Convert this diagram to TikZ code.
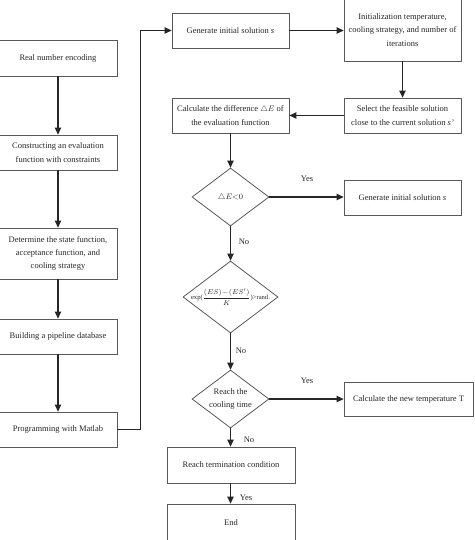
\documentclass[tikz,border=0pt]{standalone}
\usepackage{fontspec}
\setmainfont{Liberation Serif}
\usetikzlibrary{arrows.meta,shapes.geometric}
\begin{document}
\begin{tikzpicture}[x=1pt,y=-1pt,
  box/.style={draw=black!65, line width=0.8pt, rectangle, inner sep=2pt, align=center,
     font=\fontsize{8.5}{13.3}\selectfont, text=black!85},
  dia/.style={draw=black!65, line width=0.8pt, diamond, inner sep=0pt},
  dtext/.style={align=center, font=\fontsize{8.5}{13.3}\selectfont, text=black!85},
  lbl/.style={font=\fontsize{8.5}{10}\selectfont, text=black!85},
  arr/.style={draw=black!85, line width=1.2pt, -{Triangle[length=7pt,width=6.5pt]}}]
\useasboundingbox (0,0) rectangle (474,540);
% left column
\node[box, minimum width=118, minimum height=36] (enc) at (58,58) {Real number encoding};
\node[box, minimum width=118, minimum height=35] (cons) at (58,152.5) {Constructing an evaluation\\function with constraints};
\node[box, minimum width=118, minimum height=51] (det) at (58,253.5) {Determine the state function,\\acceptance function, and\\cooling strategy};
\node[box, minimum width=118, minimum height=35] (build) at (58,336.5) {Building a pipeline database};
\node[box, minimum width=118, minimum height=35] (prog) at (58,429.5) {Programming with Matlab};
% top right
\node[box, minimum width=117, minimum height=35] (gen1) at (230.5,30.5) {Generate initial solution \textit{s}};
\node[box, minimum width=117, minimum height=62] (init) at (402.5,30) {Initialization temperature,\\cooling strategy, and number of\\iterations};
\node[box, minimum width=117, minimum height=35] (sel) at (402.5,115.5) {Select the feasible solution\\close to the current solution \textit{s'}};
\node[box, minimum width=117, minimum height=35] (calc) at (230.5,115.5) {Calculate the difference $\triangle E$ of\\the evaluation function};
% decisions
\node[dia, minimum width=77, minimum height=58] (d1) at (230.5,197) {};
\node[dtext] (d1t) at (d1) {$\triangle E{<}0$};
\node[box, minimum width=117, minimum height=35] (gen2) at (402.5,197.5) {Generate initial solution \textit{s}};
\node[dia, minimum width=95, minimum height=72] (d2) at (230.5,297) {};
\node[dtext, font=\fontsize{6.6}{8}\selectfont, inner sep=0pt] (d2t) at (d2) {exp($\displaystyle\frac{(ES)\!-\!(ES')}{K}$)>rand.};
\node[dia, minimum width=77, minimum height=58] (d3) at (230.5,399) {};
\node[dtext] (d3t) at (d3) {Reach the\\cooling time};
\node[box, minimum width=129, minimum height=34] (temp) at (408.5,399) {Calculate the new temperature T};
\node[box, minimum width=128, minimum height=36] (term) at (231,465) {Reach termination condition};
\node[box, minimum width=128, minimum height=38] (end) at (231,523) {End};
% labels
\node[lbl] (y1) at (307,179) {Yes};
\node[lbl] (n1) at (244,242) {No};
\node[lbl] (n2) at (241,351) {No};
\node[lbl] (y2) at (307,381) {Yes};
\node[lbl] (n3) at (249,440) {No};
\node[lbl] (y3) at (246,498) {Yes};
% connectors
\draw[arr] (enc) -- (cons);
\draw[arr] (cons) -- (det);
\draw[arr] (det) -- (build);
\draw[arr] (build) -- (prog);
\draw[arr] (prog.east) -- ++(23,0) |- (gen1.west);
\draw[arr] (gen1.east) -- (gen1.east -| init.west);
\draw[arr] (init.south) -- (sel.north);
\draw[arr] (sel.west) -- (calc.east);
\draw[arr] (calc.south) -- (d1.north);
\draw[arr] (d1.east) -- (gen2.west |- d1.east);
\draw[arr] (d1.south) -- (d2.north);
\draw[arr] (d2.south) -- (d3.north);
\draw[arr] (d3.east) -- (temp.west);
\draw[arr] (d3.south) -- (d3.south |- term.north);
\draw[arr] (d3.south |- term.south) -- (d3.south |- end.north);
\end{tikzpicture}
\end{document}
